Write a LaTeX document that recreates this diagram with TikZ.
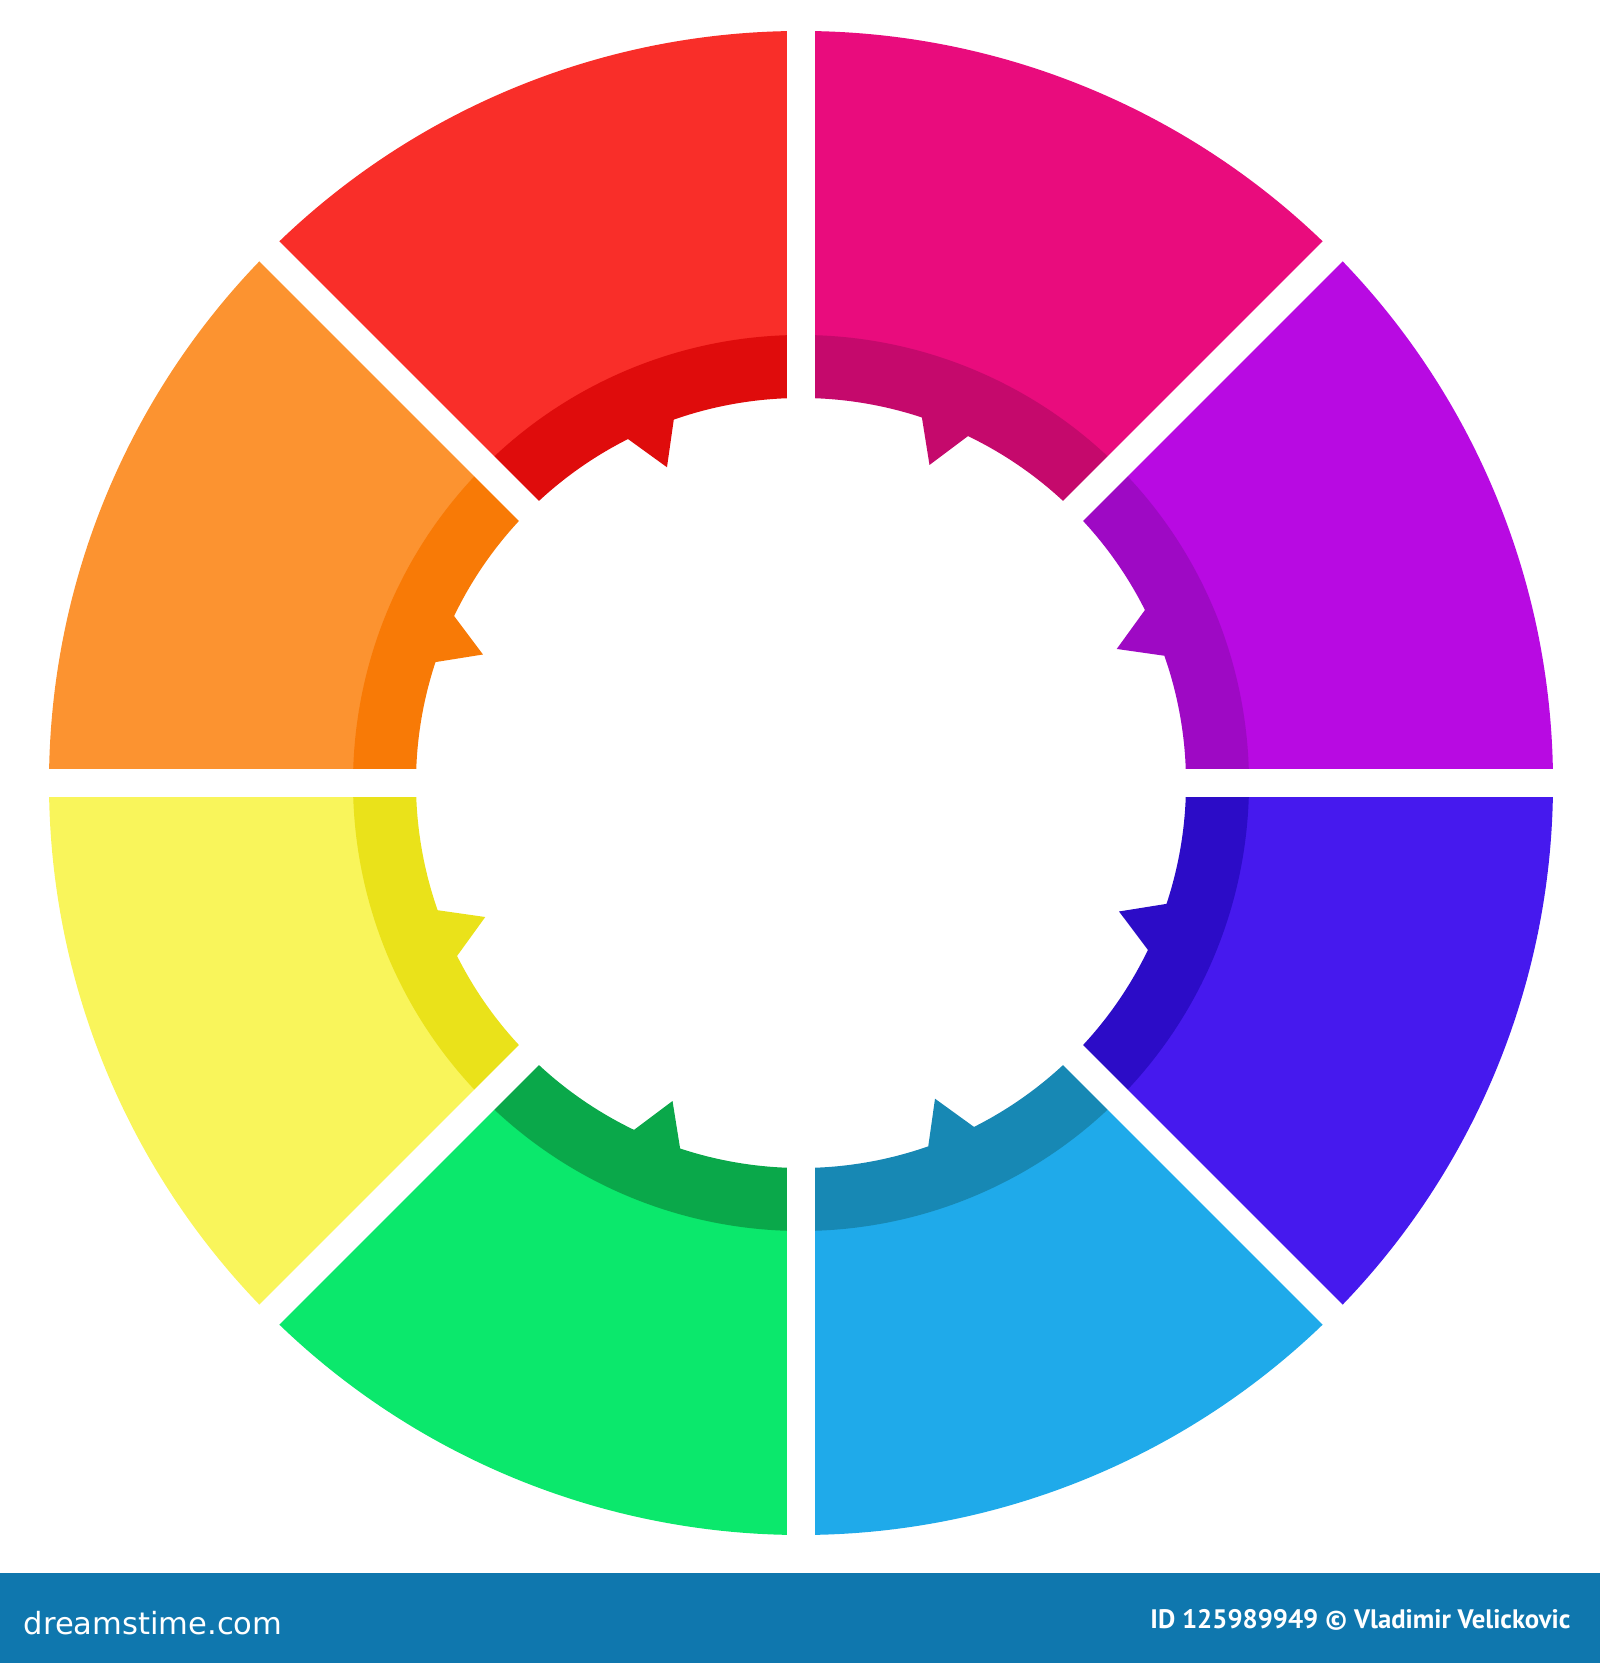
\documentclass[tikz,border=0pt]{standalone}
\usepackage{fontspec}
\usepackage{xcolor}
\usepackage{tikz}
\usetikzlibrary{calc}

\newfontfamily\logofont{DejaVu Sans}
\newfontfamily\idfont{PT Sans}

\definecolor{redlight}{HTML}{F92E29}
\definecolor{reddark}{HTML}{DF0C0C}
\definecolor{magentalight}{HTML}{E90C7D}
\definecolor{magentadark}{HTML}{C5096C}
\definecolor{purplelight}{HTML}{B80AE2}
\definecolor{purpledark}{HTML}{9E09C4}
\definecolor{violetlight}{HTML}{4619EE}
\definecolor{violetdark}{HTML}{2C0CC7}
\definecolor{skylight}{HTML}{1FAAEA}
\definecolor{skydark}{HTML}{1788B4}
\definecolor{greenlight}{HTML}{0BE86C}
\definecolor{greendark}{HTML}{0AA84A}
\definecolor{yellowlight}{HTML}{F9F55B}
\definecolor{yellowdark}{HTML}{EAE21A}
\definecolor{orangelight}{HTML}{FC9330}
\definecolor{orangedark}{HTML}{F87A06}
\definecolor{barblue}{HTML}{0F77AE}

\begin{document}
\begin{tikzpicture}
\useasboundingbox (0, 0) rectangle (16, 16.63);

% colour wheel
\begin{scope}[shift={(8.01, 8.80)}]
\foreach \m/\cl/\cd in {112.5/redlight/reddark, 67.5/magentalight/magentadark,
    22.5/purplelight/purpledark, -22.5/violetlight/violetdark,
    -67.5/skylight/skydark, -112.5/greenlight/greendark,
    -157.5/yellowlight/yellowdark, 157.5/orangelight/orangedark}{
  \fill[\cl] (\m-22.5:4.46) arc[start angle=\m-22.5, end angle=\m+22.5, radius=4.46]
    -- (\m+22.5:7.52) arc[start angle=\m+22.5, end angle=\m-22.5, radius=7.52] -- cycle;
  \fill[\cd] (\m-22.5:4.48) arc[start angle=\m-22.5, end angle=\m+22.5, radius=4.48]
    -- (\m+22.5:3.85) arc[start angle=\m+22.5, end angle=\m+4.2, radius=3.85]
    -- (\m+0.5:3.43) -- (\m-3.2:3.85)
    arc[start angle=\m-3.2, end angle=\m-22.5, radius=3.85] -- cycle;
}
% gaps
\foreach \a in {0, 45, 90, 135}
  \draw[white, line width=0.28cm] (\a:7.7) -- (\a+180:7.7);
\end{scope}

% bottom bar
\fill[barblue] (0, 0) rectangle (16, 0.90);
\node[anchor=west, text=white, inner sep=0pt, font=\logofont\fontsize{8.7}{10}\selectfont] (logo) at (0.23, 0.40) {dreamstime.com};
\node[anchor=east, text=white, inner sep=0pt, font=\idfont\bfseries\fontsize{7.6}{9}\selectfont] (credit) at (15.71, 0.43) {ID 125989949 © Vladimir Velickovic};
\end{tikzpicture}
\end{document}
